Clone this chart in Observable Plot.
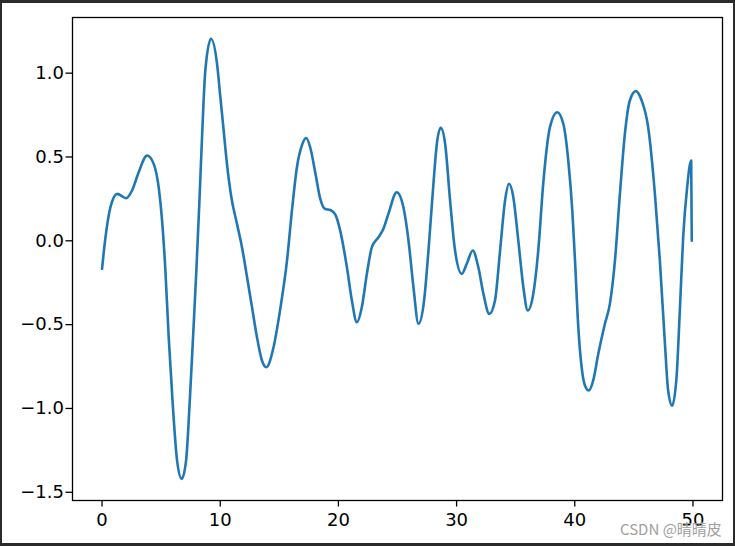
<!DOCTYPE html>
<html><head><meta charset="utf-8">
<script src="https://cdn.jsdelivr.net/npm/d3@7"></script>
<script src="https://cdn.jsdelivr.net/npm/@observablehq/plot@0.6"></script>
<style>
html,body{margin:0;padding:0;background:#2b2b2b;width:735px;height:546px;overflow:hidden}
#page{position:relative;width:735px;height:546px}
#paper{position:absolute;left:2px;top:3px;width:731px;height:540px;background:#fff}
#chart{position:absolute;left:0;top:0}
#mark{position:absolute;left:620px;top:521px;font-family:"Noto Sans CJK SC";font-size:15px;color:#a0a0a0;line-height:15px;white-space:nowrap}
</style></head><body>
<div id="page"><div id="paper"></div><div id="chart"></div><div id="mark">CSDN @晴晴皮</div></div>
<script>
const xs = [0, 0.29, 0.71, 1.28, 2.04, 2.54, 3.10, 3.81, 4.37, 4.79, 5.08, 5.36, 5.64, 5.98, 6.35, 6.74, 7.11, 7.41, 7.70, 7.98,
  8.23, 8.46, 8.74, 9.22, 9.73, 10.01, 10.29, 10.57, 10.94, 11.42, 11.84, 12.27, 12.69, 13.11, 13.53, 13.90, 14.51, 15.08, 15.65, 16.07,
  16.49, 16.91, 17.28, 17.61, 18.04, 18.46, 18.88, 19.31, 19.73, 20.15, 20.72, 21.14, 21.56, 21.98, 22.41, 22.83, 23.39, 23.81, 24.23, 24.94,
  25.50, 25.93, 26.35, 26.77, 27.25, 27.62, 28.04, 28.33, 28.66, 29.03, 29.45, 29.87, 30.44, 30.86, 31.37, 31.84, 32.27, 32.77, 33.25, 33.68,
  34.10, 34.44, 34.80, 35.22, 35.65, 36.02, 36.49, 36.91, 37.34, 37.90, 38.52, 39.03, 39.45, 39.79, 40.02, 40.30, 40.58, 40.86, 41.20, 41.56,
  41.99, 42.55, 42.97, 43.40, 43.82, 44.24, 44.66, 45.17, 45.66, 46.21, 46.78, 47.20, 47.63, 47.90, 48.24, 48.61, 48.89, 49.17, 49.51, 49.85,
  49.90];
const ys = [-0.167, 0.021, 0.200, 0.280, 0.254, 0.300, 0.409, 0.509, 0.459, 0.320, 0.121, -0.177, -0.575, -0.973, -1.311, -1.420, -1.311, -0.973, -0.575, -0.177,
  0.221, 0.618, 1.016, 1.205, 1.056, 0.857, 0.658, 0.459, 0.260, 0.101, -0.038, -0.217, -0.396, -0.575, -0.714, -0.754, -0.635, -0.406, -0.118, 0.181,
  0.439, 0.569, 0.613, 0.558, 0.408, 0.252, 0.190, 0.184, 0.157, 0.061, -0.158, -0.356, -0.486, -0.396, -0.197, -0.038, 0.021, 0.072, 0.161, 0.290,
  0.200, 0.002, -0.277, -0.495, -0.356, -0.058, 0.340, 0.579, 0.674, 0.579, 0.240, -0.058, -0.197, -0.137, -0.058, -0.158, -0.316, -0.436, -0.356, -0.058,
  0.240, 0.340, 0.260, 0.002, -0.277, -0.416, -0.316, -0.058, 0.349, 0.678, 0.767, 0.698, 0.479, 0.181, -0.118, -0.516, -0.754, -0.863, -0.893, -0.833,
  -0.674, -0.495, -0.376, -0.118, 0.280, 0.638, 0.837, 0.893, 0.837, 0.678, 0.280, -0.118, -0.615, -0.893, -0.983, -0.814, -0.416, 0.020, 0.320, 0.479,
  0];
const xTicks = [0, 10, 20, 30, 40, 50];
const yTicks = [-1.5, -1.0, -0.5, 0.0, 0.5, 1.0];

const data = xs.map((x, i) => ({x, y: ys[i]}));
const fmt = d => (d < 0 ? "\u2212" : "") + Math.abs(d).toFixed(1);

const plot = Plot.plot({
  width: 735, height: 546,
  marginLeft: 72, marginRight: 13, marginTop: 17, marginBottom: 46,
  style: {background: "transparent", fontFamily: "DejaVu Sans", fontSize: "18px", color: "#000"},
  x: {domain: [-2.5, 52.5]},
  y: {domain: [-1.549, 1.332]},
  marks: [
    Plot.axisX(xTicks, {anchor: "bottom", tickSize: 6.5, tickPadding: 6.5, label: null, strokeWidth: 1.3, tickFormat: d => String(d), fontSize: 18}),
    Plot.axisY(yTicks, {anchor: "left", tickSize: 6.5, tickPadding: 2, label: null, strokeWidth: 1.3, tickFormat: fmt, fontSize: 18}),
    Plot.line(data, {x: "x", y: "y", stroke: "#1f77b4", strokeWidth: 2.6, curve: "monotone-x"}),
    Plot.frame({stroke: "#000", strokeWidth: 1.3})
  ]
});
document.getElementById("chart").append(plot);
</script></body></html>
